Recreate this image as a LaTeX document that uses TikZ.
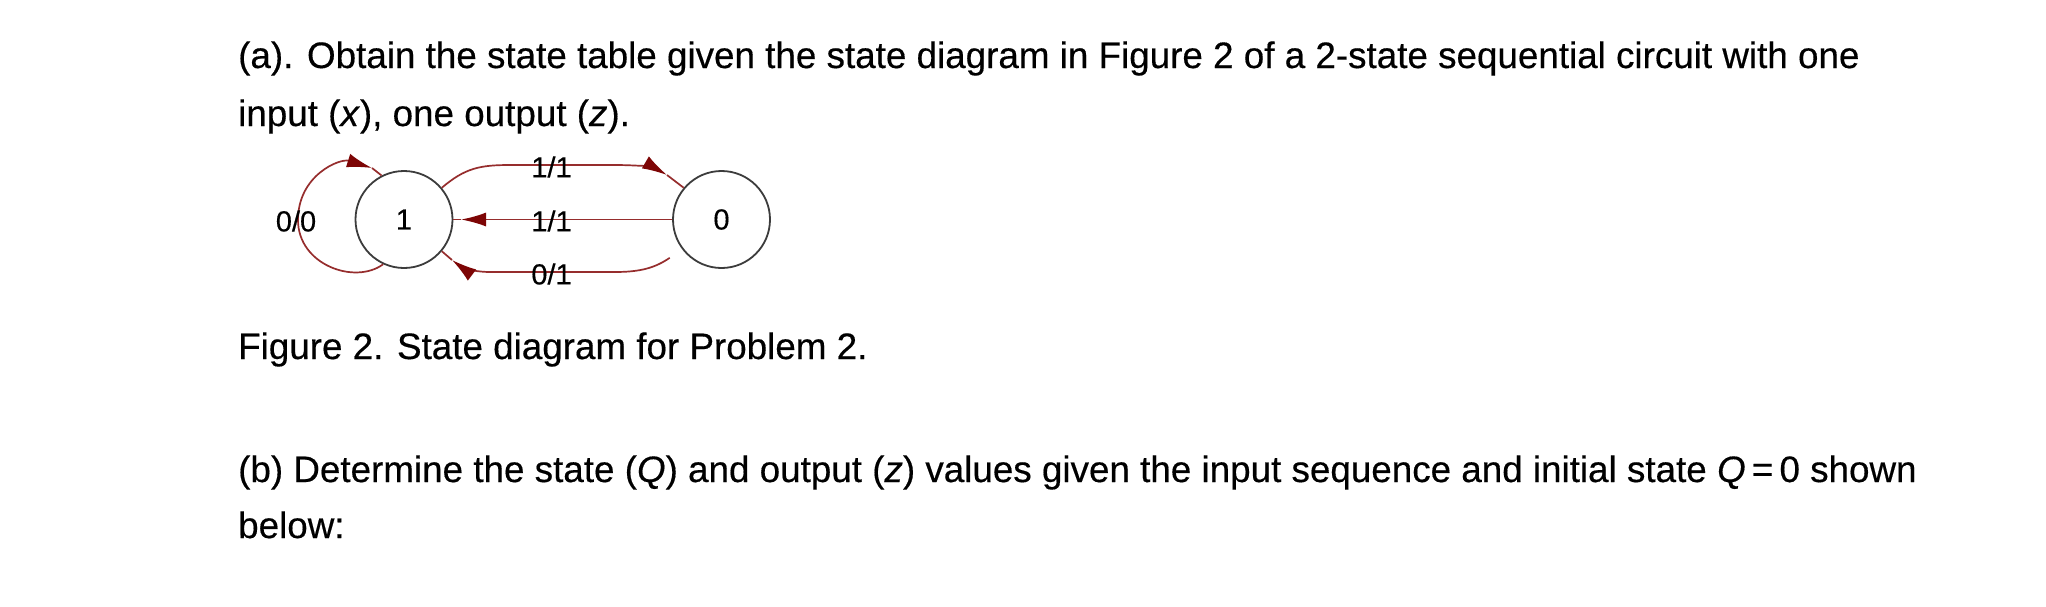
\documentclass[tikz,border=0pt]{standalone}
\usepackage{fontspec}
\setmainfont{Liberation Sans}[FakeBold=0.4]
\usetikzlibrary{arrows.meta}
\definecolor{edgered}{RGB}{150,45,45}
\definecolor{edgedark}{RGB}{125,5,5}
\definecolor{circgray}{RGB}{60,60,60}
\begin{document}
\begin{tikzpicture}[x=1pt,y=1pt,
  txt/.style={anchor=base west, inner sep=0pt, font=\fontsize{36.8}{44}\selectfont},
  state/.style={circle, draw=circgray, line width=1.8pt, minimum size=97pt, inner sep=0pt, font=\fontsize{29}{34}\selectfont},
  lbl/.style={inner sep=0pt, font=\fontsize{29}{34}\selectfont},
  conn/.style={draw=edgered, line width=1.7pt},
  headed/.style={conn, -{Latex[length=25pt,width=14pt,color=edgedark]}}
]
\useasboundingbox[fill=white] (0,0) rectangle (2046,-606);

% text
\node[txt] (l1) at (238,-68) {(a). Obtain the state table given the state diagram in Figure 2 of a 2-state sequential circuit with one};
\node[txt] (l2) at (238,-126) {input (\textit{x}), one output (\textit{z}).};
\node[txt] (l3) at (238,-359) {Figure 2. State diagram for Problem 2.};
\node[txt] (l4) at (238,-482) {(b) Determine the state (\textit{Q}) and output (\textit{z}) values given the input sequence and initial state \textit{Q}\,=\,0 shown};
\node[txt] (l5) at (238,-538) {below:};

% states
\node[state] (s1) at (404,-219.5) {1};
\node[state] (s0) at (721.5,-219.5) {0};

% arrow tip positions (the line goes on from each tip to the circle)
\coordinate (tipU) at (667,-175);
\coordinate (tipM) at (461,-219.5);
\coordinate (tipL) at (452,-260);
\coordinate (tipS) at (372,-168);

% 1 -> 0 on input 1, output 1
\draw[headed] (s1.40) .. controls (465,-168) and (480,-165) .. (510,-165)
   -- (615,-165) .. controls (640,-165) and (655,-168) .. (tipU);
\draw[conn] (tipU) -- (s0.140);

% 0 -> 1 on input 1, output 1
\draw[headed] (s0.west) -- (tipM);
\draw[conn] (tipM) -- (s1.east);

% 0 -> 1 on input 0, output 1
\draw[headed, shorten <=15pt] (s0.217) .. controls (655,-268) and (640,-272) .. (615,-272)
   -- (490,-272) .. controls (472,-272) and (460,-266) .. (tipL);
\draw[conn] (tipL) -- (s1.320);

% 1 -> 1 on input 0, output 0
\draw[headed] (s1.245) .. controls (355,-285) and (298,-265) .. (298,-220)
   .. controls (298,-175) and (340,-158) .. (tipS);
\draw[conn] (tipS) -- (s1.117);

% labels
\node[lbl] (a1) at (551.5,-167) {1/1};
\node[lbl] (a2) at (551.5,-221) {1/1};
\node[lbl] (a3) at (551.5,-274) {0/1};
\node[lbl] (a4) at (296,-221) {0/0};
\end{tikzpicture}
\end{document}
